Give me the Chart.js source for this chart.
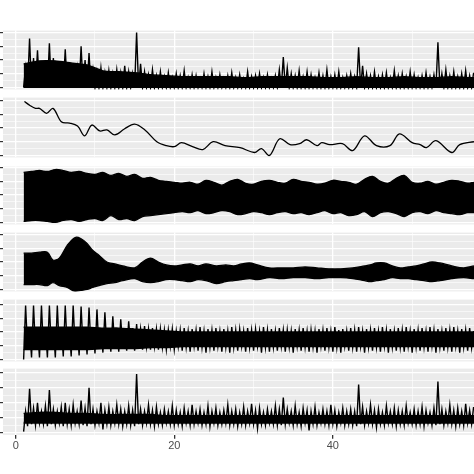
<!DOCTYPE html>
<html><head><meta charset="utf-8">
<script src="https://cdn.jsdelivr.net/npm/chart.js@4"></script>
<style>body{margin:0;background:#fff;width:474px;height:474px;overflow:hidden;position:relative}canvas{position:absolute;left:0}</style>
</head><body>
<canvas id="c1"></canvas><canvas id="c2"></canvas><canvas id="c3"></canvas><canvas id="c4"></canvas><canvas id="c5"></canvas><canvas id="c6"></canvas>
<script>
// x tick labels
const xTicks=[0,10,20,30,40,50];
// Panel 1: spike heights at x = 1, 1.5, 2, ...
const p1Heights=[20,50,30,38,25,28,45,30,22,26,39,24,25,20,42,28,35,
18,16,20,15,17,14,18,15,22,16,14,56,
24,16,13,18,12,16,11,15,10,14,12,17,10,13,
12,9,14,11,16,10,13,9,12,15,10,13,9,16,11,12,14,10,13,9,12,18,
31,
20,14,12,17,11,16,13,10,15,12,18,11,13,16,10,12,14,11,
41,
22,14,12,16,11,13,15,10,17,12,14,11,16,13,10,12,15,11,13,
46,
14,18,12,16,11,14,17,12,15];
const p1Base=2;
// solid body of the dense traces, read every 2 units from x = 1
const bodyX=[1,3,5,7,9,11,13,15,17,19,21,23,25,27,29,31,33,35,37,39,41,43,45,47,49,51,53,55,57,57.8];
const p1Body=[24,27,27,25,23,17,16,15,13,12,11,11,11,11,10,11,11,11,11,10,10,11,10,10,11,10,10,11,10,10];
const p5BodyLo=[12,12,12,12,12,13,13,13,14,14,15,15,15,15,15,15,15,15,15,15,15,15,15,15,15,15,15,15,15,15];
const p5BodyHi=[35,35,35,35,35,34,34,33,32,31,30,30,30,30,30,30,30,30,30,30,30,30,30,30,30,30,30,30,30,30];
const p6BodyLo=[11,11,11,11,11,11,11,11,11,11,11,11,11,11,11,11,11,11,11,11,11,11,11,11,11,11,11,11,11,11];
const p6BodyHi=[20,21,21,20,20,19,19,19,19,18,18,18,18,18,18,18,18,18,18,18,18,18,18,18,18,18,18,18,18,18];
// Panel 2: smooth line
const p2X=[1.1,1.8,2.5,3.0,3.9,4.7,5.8,6.8,7.8,8.7,9.6,10.6,11.5,12.5,13.7,15,16.3,17.8,19,20,20.9,22.3,23.6,24.9,26.4,28.3,30.1,31,32,33.3,34.6,35.8,36.7,38,38.6,39.6,41.2,42.5,44,45.5,47.2,48.4,50,51,51.8,53,55,56,57.8];
const p2Y=[57,53,50,50,45,50,36,35,32,22,33,27,28,23,29,34,28,16,12,11,15,11,8,16,12,10,5,9,2,19,13,14,18,12,15,13,14,7,22,12,12,24,15,13,10,17,5,13,16];
// Panel 3: envelope
const p3X=[1,2,3,4,5,6,7,8,9,10,11,12,13,14,15,16,17,18,19,20,21,22,23,24,25,26,27,28,29,30,31,32,33,34,35,36,37,38,39,40,41,42,43,44,45,46,47,48,49,50,51,52,53,54,55,56,57,57.8];
const p3Hi=[53,54,55,54,56,55,53,54,52,51,53,50,52,49,51,47,48,45,44,43,42,43,41,45,43,40,44,46,42,41,44,45,43,42,46,44,43,41,42,45,44,43,41,46,49,44,42,47,50,43,42,44,41,43,45,44,42,43];
const p3Lo=[3,4,4,3,2,4,5,3,5,6,4,9,5,6,4,8,9,10,11,12,13,12,14,11,12,14,13,10,11,13,12,10,12,13,11,12,10,12,14,11,12,9,10,13,8,12,13,11,8,12,13,11,14,12,11,10,12,12];
// Panel 4: envelope
const p4X=[1,2,3,4,4.7,5.5,6.5,7.5,8.2,9,9.7,10.5,11.5,12.5,13.5,15,16,17,18,19,20,21,22,23,24,25.3,26.5,27.5,28.5,29.5,30.5,32,33.5,35,36.5,38,39.5,41,42.5,44,44.7,45.5,46.5,47.5,48.5,49.5,50.5,51.5,52.5,53.5,55,56.5,57.8];
const p4Hi=[39,39,40,40,32,34,47,55,54,49,42,37,30,28,26,24,30,34,30,27,26,27,28,26,28,26,27,26,28,29,27,24,24,24,25,24,23,23,24,26,27,29,29,26,24,25,26,28,30,29,26,24,26];
const p4Lo=[7,7,7,6,9,6,4,0,1,2,4,6,8,9,11,13,10,9,10,12,12,11,10,12,11,8,10,11,12,13,12,14,13,14,14,13,14,14,13,11,10,11,12,14,13,13,12,11,10,11,13,14,13];
// Panel 5: ranges at x = 1, 1.5, 2, ...
const p5Hi=[57,35,57,35,57,35,57,35,57,35,57,34,57,35,56,34,55,35,53,34,50,34,46,34,43,33,41,34,38,33,36,33,34,33,33,32,32,33,31,32,
34,31,33,32,35,31,33,32,34,31,33,31,35,32,33,31,34,32,33,31,35,32,33,31,34,32,32,31,33,32,34,31,32,31,33,32,34,31,35,32,33,31,34,32,35,31,33,32,34,31,35,32,33,31,34,32,35,31,33,32,34,31,35,32,33,31,34,32,35,31,33,32,34,31];
const p5Lo=[2,13,4,12,4,12,4,13,4,12,5,13,5,13,6,13,7,14,8,13,9,14,10,14,10,14,11,15,11,14,12,15,12,15,12,14,12,15,12,15,
11,14,10,15,11,14,9,14,11,15,10,14,9,14,11,15,10,14,11,15,9,14,10,14,11,15,10,14,9,15,11,14,10,14,9,15,11,14,10,14,9,15,11,14,10,15,9,14,11,14,10,15,9,14,11,14,10,15,9,14,11,14,10,15,9,14,11,14,10,15,9,14,11,14];
// Panel 6: ranges at x = 1, 1.5, 2, ...
const p6Hi=[22,43,25,30,22,27,42,24,22,26,30,24,28,22,32,25,44,
24,22,30,23,26,22,28,24,22,27,23,57,
24,22,28,23,26,21,24,22,27,23,21,25,22,28,
22,24,21,27,22,25,21,23,28,22,24,21,26,22,29,23,25,21,24,22,27,24,
35,
24,22,27,21,25,23,22,26,21,24,22,28,23,21,25,22,24,22,
47,
26,22,28,23,24,21,27,22,25,23,22,27,21,24,22,26,23,21,25,
50,
24,22,28,23,25,22,29,23,26];
const p6Lo=[3,8,10,9,11,10,8,10,9,11,8,10,9,11,10,9,8,
10,9,11,5,10,9,11,10,8,10,9,8,
10,9,11,10,8,10,9,11,10,9,10,8,11,9,
10,11,9,10,8,11,9,10,11,9,10,8,10,9,11,10,6,10,9,11,10,9,
9,
10,11,9,10,8,11,4,10,9,11,10,9,10,8,11,9,10,9,
8,
10,9,11,10,7,10,9,11,10,8,10,9,11,10,9,10,8,11,9,
9,
10,9,11,10,8,10,9,11,10];

const X0=1, DX=0.5;
function zigzag(lo,hi){const out=[];hi.forEach((h,i)=>{const x=X0+i*DX;out.push({x,y:lo[i]});out.push({x:x+DX/2,y:h});});return out;}
const pts=(xs,ys)=>xs.map((x,i)=>({x,y:ys[i]}));
const bg={id:'bg',beforeDraw(c){const a=c.chartArea,g=c.ctx;g.save();g.fillStyle='#EBEBEB';g.fillRect(a.left,a.top,a.right-a.left,a.bottom-a.top);g.restore();}};
const lineDs=(d,fill,t)=>({type:'line',data:d,borderColor:'#000',borderWidth:1.3,pointRadius:0,tension:t===undefined?0.35:t,fill:fill||false,backgroundColor:'#000'});
const zigDs=d=>({type:'line',data:d,borderColor:'#000',borderWidth:1.4,pointRadius:0,tension:0,fill:false});
const band=(lo,hi)=>[lineDs(pts(bodyX,lo),false,0.2),lineDs(pts(bodyX,hi),'-1',0.2)];

function make(id,top,h,datasets,bottom){
  const cv=document.getElementById(id);
  const H=h+(bottom?24:0);
  cv.width=474;cv.height=H;cv.style.top=top+'px';cv.style.width='474px';cv.style.height=H+'px';
  const yt=[];for(let v=2;v<h;v+=7)yt.push(v);
  new Chart(cv,{type:'line',data:{datasets},plugins:[bg],options:{
    responsive:false,animation:false,devicePixelRatio:1,
    layout:{padding:0},
    plugins:{legend:{display:false},tooltip:{enabled:false}},
    scales:{
      x:{type:'linear',min:-1.6,max:57.8,offset:false,
        afterBuildTicks:s=>{s.ticks=xTicks.map(v=>({value:v}));},
        afterFit:s=>{if(!bottom)s.height=0;},
        border:{display:false},
        grid:{color:'#fff',lineWidth:c=>(c.tick&&c.tick.value%20===0)?1.3:0.6,drawTicks:!!bottom,tickLength:4,
          tickColor:c=>(c.tick&&c.tick.value%20===0)?'#333':'rgba(0,0,0,0)'},
        ticks:{display:!!bottom,color:'#4D4D4D',font:{family:'Liberation Sans, Arial',size:11},padding:1,maxRotation:0,autoSkip:false,
          callback:v=>v%20===0?String(v):''}},
      y:{type:'linear',min:0,max:h,
        afterBuildTicks:s=>{s.ticks=yt.map(v=>({value:v}));},
        afterFit:s=>{s.width=3;},
        border:{display:false},
        grid:{color:'#fff',lineWidth:c=>(c.index%2===0)?1.2:0.6,drawTicks:true,tickLength:3,
          tickColor:c=>(c.index%2===0)?'#333':'rgba(0,0,0,0)'},
        ticks:{display:true,color:'rgba(0,0,0,0)',padding:0,font:{size:1}}}
    }}});
}
make('c1',30,60,[...band(p1Body.map(()=>p1Base),p1Body.map(v=>p1Base+v)),zigDs(zigzag(p1Heights.map(()=>p1Base),p1Heights.map(v=>p1Base+v)))]);
make('c2',97,61,[lineDs(pts(p2X,p2Y))]);
make('c3',166,59,[lineDs(pts(p3X,p3Lo)),lineDs(pts(p3X,p3Hi),'-1')]);
make('c4',232,60,[lineDs(pts(p4X,p4Lo)),lineDs(pts(p4X,p4Hi),'-1')]);
make('c5',299,63,[...band(p5BodyLo,p5BodyHi),zigDs(zigzag(p5Lo,p5Hi))]);
make('c6',368,62,[...band(p6BodyLo,p6BodyHi),zigDs(zigzag(p6Lo,p6Hi))],true);
</script></body></html>
